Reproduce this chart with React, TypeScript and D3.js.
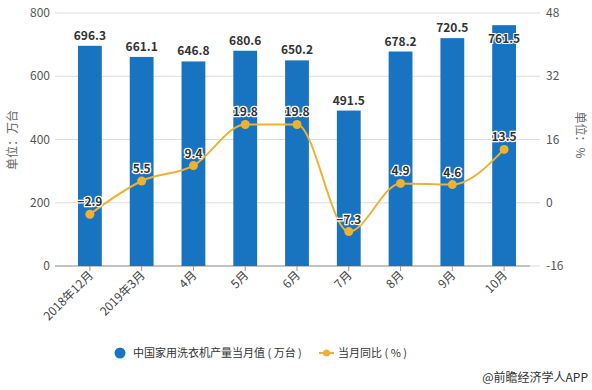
import React from 'react'
import { scaleBand, scaleLinear, line, curveMonotoneX } from 'd3'

const months = ['2018年12月', '2019年3月', '4月', '5月', '6月', '7月', '8月', '9月', '10月']
const output = [696.3, 661.1, 646.8, 680.6, 650.2, 491.5, 678.2, 720.5, 761.5]
const yoy = [-2.9, 5.5, 9.4, 19.8, 19.8, -7.3, 4.9, 4.6, 13.5]
const leftTicks = [0, 200, 400, 600, 800]
const rightTicks = [-16, 0, 16, 32, 48]

const BLUE = '#1874c1'
const ORANGE = '#efb230'
const FONT = '"Noto Sans CJK SC", "Noto Sans", sans-serif'

const App = () => {
  const width = 592
  const height = 390
  const top = 13
  const bottom = 266

  const x = scaleBand<string>().domain(months).range([64, 530]).paddingInner(0.54).paddingOuter(0.27)
  const yL = scaleLinear().domain([0, 800]).range([bottom, top])
  const yR = scaleLinear().domain([-16, 48]).range([bottom, top])
  const cx = (m: string) => (x(m) as number) + x.bandwidth() / 2

  const path = line<number>()
    .x((_, i) => cx(months[i]))
    .y(d => yR(d))
    .curve(curveMonotoneX)(yoy)

  return (
    <svg width={width} height={height} style={{ position: 'absolute', left: 0, top: 0, fontFamily: FONT }}>
      {/* grid + ticks */}
      {leftTicks.map((t, i) => (
        <g key={t}>
          <line x1={55} x2={540} y1={yL(t)} y2={yL(t)} stroke="#dcdcdc" />
          <text x={50} y={yL(t)} dy="0.35em" textAnchor="end" fontSize={12} fill="#555">{t}</text>
          <text x={546} y={yR(rightTicks[i])} dy="0.35em" fontSize={12} fill="#555">{rightTicks[i]}</text>
        </g>
      ))}
      <line x1={55} x2={530} y1={bottom} y2={bottom} stroke="#999" />
      {months.map(m => (
        <g key={m}>
          <line x1={cx(m)} x2={cx(m)} y1={bottom} y2={bottom + 5} stroke="#999" />
          <text transform={`translate(${cx(m) + 4},${bottom + 10}) rotate(-45)`} textAnchor="end" fontSize={12} fill="#444">{m}</text>
        </g>
      ))}

      {/* axis titles */}
      <text transform={`translate(17,140) rotate(-90)`} textAnchor="middle" fontSize={12} fill="#666">单位：万台</text>
      <text transform={`translate(576,135) rotate(90)`} textAnchor="middle" fontSize={12} fill="#666">单位：%</text>

      {/* bars */}
      {months.map((m, i) => (
        <rect key={m} x={x(m)} y={yL(output[i])} width={x.bandwidth()} height={bottom - yL(output[i])} fill={BLUE} />
      ))}
      {months.map((m, i) => {
        const yt = yL(output[i])
        const ly = yt < 30 ? yt + 18 : yt - 6
        return (
          <text key={m} x={cx(m)} y={ly} textAnchor="middle" fontSize={12} fontWeight="bold" fill="#333"
            stroke="#fff" strokeWidth={yt < 30 ? 2 : 0} paintOrder="stroke">{output[i]}</text>
        )
      })}

      {/* line */}
      <path d={path ?? ''} fill="none" stroke={ORANGE} strokeWidth={2} />
      {yoy.map((v, i) => (
        <circle key={i} cx={cx(months[i])} cy={yR(v)} r={4.5} fill={ORANGE} />
      ))}
      {yoy.map((v, i) => (
        <text key={i} x={cx(months[i])} y={yR(v) - 8} textAnchor="middle" fontSize={12} fontWeight="bold"
          fill="#333" stroke="#fff" strokeWidth={2.5} paintOrder="stroke">{v.toFixed(1).replace('-', '−')}</text>
      ))}

      {/* legend */}
      <circle cx={120} cy={353} r={5.5} fill={BLUE} />
      <text x={133} y={353} dy="0.35em" fontSize={11} fill="#333">中国家用洗衣机产量当月值 ( 万台 )</text>
      <line x1={319} x2={334} y1={353} y2={353} stroke={ORANGE} strokeWidth={2} />
      <circle cx={326.5} cy={353} r={3.5} fill={ORANGE} />
      <text x={338} y={353} dy="0.35em" fontSize={11} fill="#333">当月同比 ( % )</text>

      <text x={588} y={378} dy="0.35em" textAnchor="end" fontSize={12} fill="#333">@前瞻经济学人APP</text>
    </svg>
  )
}

export default App
